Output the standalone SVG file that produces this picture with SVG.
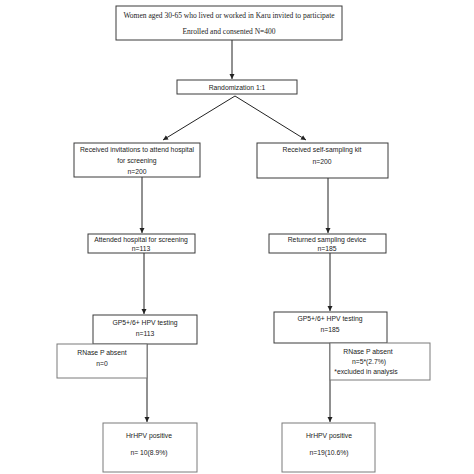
<svg xmlns="http://www.w3.org/2000/svg" width="474" height="474" viewBox="0 0 474 474">
<style>
.b{fill:#fff;stroke:#3a3a3a;stroke-width:1}
.g{fill:#fff;stroke:#7a7a7a;stroke-width:1}
.t{font-family:"Liberation Sans",Arial,sans-serif;font-size:6.8px;fill:#222;text-anchor:middle}
.s{font-family:"Liberation Serif","Times New Roman",serif;font-size:7.5px;fill:#222;text-anchor:middle}
.c{stroke:#222;stroke-width:1;fill:none}
</style>
<defs>
<marker id="ah" markerWidth="6" markerHeight="6" refX="5" refY="3" orient="auto" markerUnits="userSpaceOnUse">
<path d="M0,0.5 L5,3 L0,5.5 Z" fill="#222"/>
</marker>
</defs>
<rect width="474" height="474" fill="#fff"/>
<g id="connectors">
<line class="c" x1="232" y1="40" x2="232" y2="79" marker-end="url(#ah)"/>
<line class="c" x1="235" y1="96" x2="163" y2="140" marker-end="url(#ah)"/>
<line class="c" x1="235" y1="96" x2="306" y2="140" marker-end="url(#ah)"/>
<line class="c" x1="142" y1="177" x2="142" y2="233" marker-end="url(#ah)"/>
<line class="c" x1="328" y1="178" x2="328" y2="233" marker-end="url(#ah)"/>
<line class="c" x1="144" y1="253" x2="144" y2="314" marker-end="url(#ah)"/>
<line class="c" x1="330" y1="253" x2="330" y2="311" marker-end="url(#ah)"/>
<line class="c" x1="147" y1="344" x2="147" y2="422" marker-end="url(#ah)"/>
<line class="c" x1="330" y1="343" x2="330" y2="422" marker-end="url(#ah)"/>
</g>
<g id="n1">
<rect class="b" x="116" y="6" width="226" height="34"/>
<text class="s" x="229" y="18">Women aged 30-65 who lived or worked in Karu invited to participate</text>
<text class="s" x="229" y="34">Enrolled and consented N=400</text>
</g>
<g id="n2">
<rect class="b" x="177" y="80" width="120" height="14"/>
<text class="t" x="237" y="89.5">Randomization 1:1</text>
</g>
<g id="n3">
<rect class="b" x="74" y="143" width="126" height="34"/>
<text class="t" x="137" y="152">Received invitations to attend hospital</text>
<text class="t" x="137" y="163">for screening</text>
<text class="t" x="137" y="174">n=200</text>
</g>
<g id="n4">
<rect class="b" x="257" y="143" width="131" height="35"/>
<text class="t" x="322" y="152">Received self-sampling kit</text>
<text class="t" x="322" y="164">n=200</text>
</g>
<g id="n5">
<rect class="b" x="88" y="234" width="107" height="19"/>
<text class="t" x="141" y="241.5">Attended hospital for screening</text>
<text class="t" x="141" y="250.5">n=113</text>
</g>
<g id="n6">
<rect class="b" x="269" y="234" width="117" height="19"/>
<text class="t" x="327" y="241.5">Returned sampling device</text>
<text class="t" x="327" y="250.5">n=185</text>
</g>
<g id="n7">
<rect class="b" x="93" y="315" width="104" height="29"/>
<text class="t" x="145" y="325">GP5+/6+ HPV testing</text>
<text class="t" x="145" y="335.5">n=113</text>
</g>
<g id="n8">
<rect class="g" x="57" y="344" width="90" height="34"/>
<text class="t" x="102" y="355">RNase P absent</text>
<text class="t" x="102" y="365.5">n=0</text>
</g>
<g id="n9">
<rect class="b" x="274" y="312" width="113" height="31"/>
<text class="t" x="330" y="320.5">GP5+/6+ HPV testing</text>
<text class="t" x="330" y="332">n=185</text>
</g>
<g id="n10">
<rect class="g" x="330" y="343" width="100" height="37"/>
<text class="t" x="368" y="354">RNase P absent</text>
<text class="t" x="369" y="364">n=5*(2.7%)</text>
<text class="t" x="366" y="374">*excluded in analysis</text>
</g>
<g id="n11">
<rect class="g" x="103" y="423" width="94" height="49"/>
<text class="t" x="149" y="438">HrHPV positive</text>
<text class="t" x="149" y="455">n= 10(8.9%)</text>
</g>
<g id="n12">
<rect class="g" x="282" y="423" width="93" height="49"/>
<text class="t" x="329" y="438">HrHPV positive</text>
<text class="t" x="329" y="455">n=19(10.6%)</text>
</g>
</svg>
